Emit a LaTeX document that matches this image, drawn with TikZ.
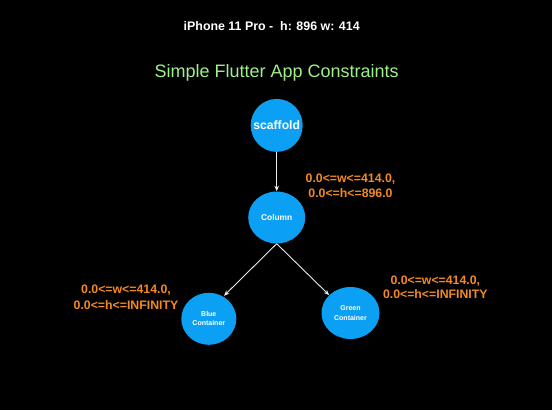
\documentclass[tikz,border=0pt]{standalone}
\usepackage{fontspec}
\setmainfont{Liberation Sans}
\usetikzlibrary{shapes.geometric,arrows.meta}
\definecolor{nodeblue}{RGB}{12,160,245}
\definecolor{lblorange}{RGB}{242,138,36}
\definecolor{ttlgreen}{RGB}{160,240,140}
\tikzset{
  bubble/.style={ellipse, fill=nodeblue, draw=none, inner sep=0pt, text=white, font=\bfseries, align=center},
  cons/.style={text=lblorange, font=\fontsize{12.3}{15.5}\selectfont\bfseries, align=center, inner sep=0pt},
  link/.style={draw=white!92!black, line width=0.9pt, -{Stealth[length=5.5pt,width=4.5pt]}}
}
\begin{document}
\begin{tikzpicture}[x=1pt,y=-1pt]
\useasboundingbox[fill=black] (0,0) rectangle (552,410);
\node[text=white, font=\fontsize{12.4}{14}\selectfont\bfseries, inner sep=0pt] (hdr) at (271.7,26) {iPhone 11 Pro -~ h: 896 w: 414};
\node[text=ttlgreen, font=\fontsize{18}{20}\selectfont, inner sep=0pt] (ttl) at (276.7,73) {Simple Flutter App Constraints};
\node[bubble, minimum width=52pt, minimum height=53pt, inner xsep=-6pt, font=\fontsize{12.2}{14}\selectfont\bfseries] (scaffold) at (276.7,125.4) {scaffold};
\node[bubble, minimum width=57pt, minimum height=52pt, font=\fontsize{8.4}{10}\selectfont\bfseries] (column) at (276.7,217.5) {Column};
\node[bubble, minimum width=55pt, minimum height=52pt, font=\fontsize{7}{9.2}\selectfont\bfseries] (blue) at (208.8,318.8) {Blue\\Container};
\node[bubble, minimum width=58pt, minimum height=52pt, font=\fontsize{7}{9.2}\selectfont\bfseries] (green) at (350.5,313) {Green\\Container};
\node[cons, font=\fontsize{12.3}{15}\selectfont\bfseries] (c1) at (350.5,185.5) {0.0<=w<=414.0,\\0.0<=h<=896.0};
\node[cons, font=\fontsize{12.3}{16.4}\selectfont\bfseries] (c2) at (126,297.5) {0.0<=w<=414.0,\\0.0<=h<=INFINITY};
\node[cons, font=\fontsize{12.3}{14}\selectfont\bfseries] (c3) at (435.3,287) {0.0<=w<=414.0,\\0.0<=h<=INFINITY};
\draw[link] (scaffold) -- (column);
\draw[link, shorten >=1pt] (column.south) -- (blue.57);
\draw[link] (column.south) -- (green.140);
\end{tikzpicture}
\end{document}
